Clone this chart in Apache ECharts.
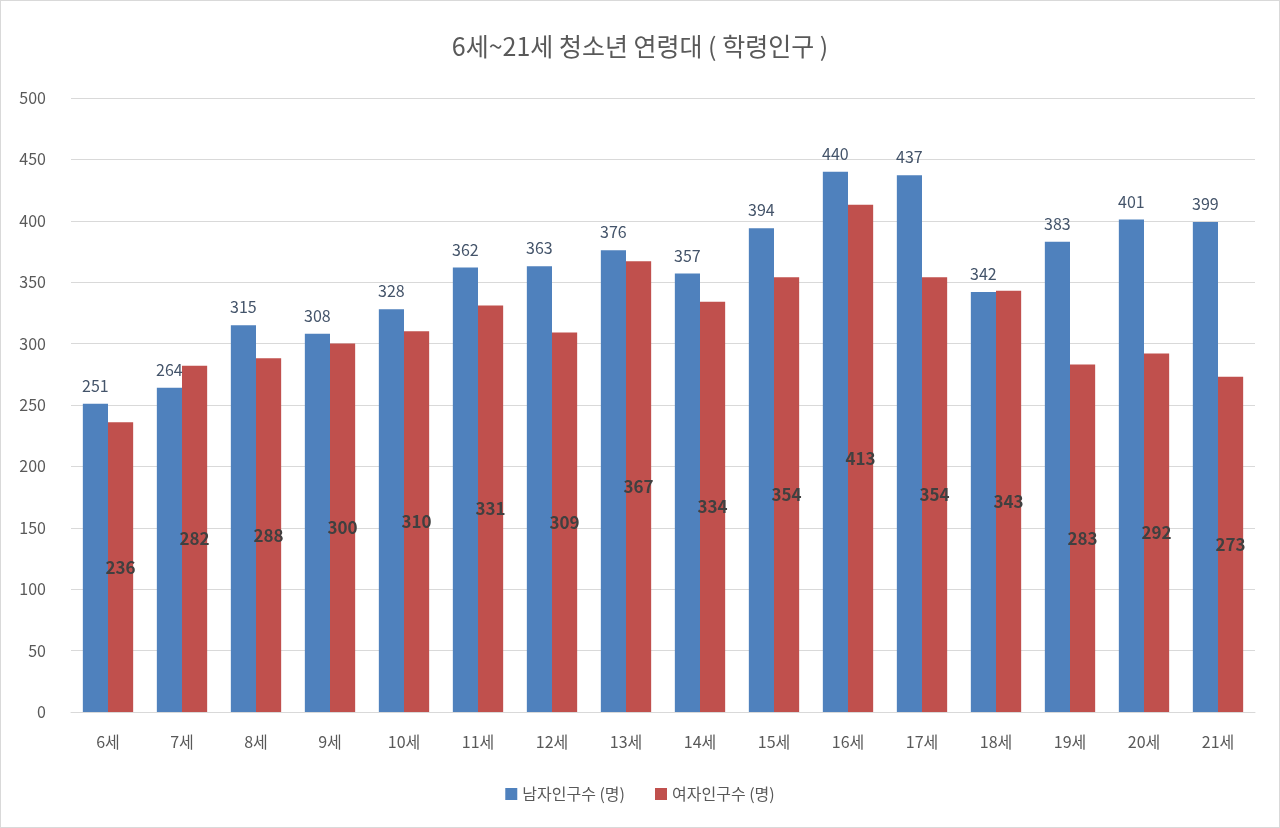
<!DOCTYPE html>
<html>
<head>
<meta charset="utf-8">
<script src="https://cdn.jsdelivr.net/npm/echarts@6/dist/echarts.min.js"></script>
<style>
  html, body { margin: 0; padding: 0; background: #fff; }
  #chart { width: 1278px; height: 826px; border: 1px solid #d9d9d9; }
</style>
</head>
<body>
<div id="chart"></div>
<script>
// 연령대
const ages = ['6세', '7세', '8세', '9세', '10세', '11세', '12세', '13세', '14세', '15세', '16세', '17세', '18세', '19세', '20세', '21세'];
// 남자인구수
const male = [251, 264, 315, 308, 328, 362, 363, 376, 357, 394, 440, 437, 342, 383, 401, 399];
// 여자인구수
const female = [236, 282, 288, 300, 310, 331, 309, 367, 334, 354, 413, 354, 343, 283, 292, 273];

const chart = echarts.init(document.getElementById('chart'));
const font = '"Noto Sans CJK KR", "Noto Sans", sans-serif';

chart.setOption({
  textStyle: { fontFamily: font },
  title: {
    text: '6세~21세 청소년 연령대 ( 학령인구 )',
    left: 'center',
    top: 28,
    textStyle: { fontFamily: font, fontSize: 25, fontWeight: 'normal', color: '#595959' }
  },
  legend: {
    bottom: 20,
    itemWidth: 12,
    itemHeight: 12,
    itemGap: 30,
    icon: 'rect',
    textStyle: { fontFamily: font, fontSize: 16, color: '#595959' },
    data: ['남자인구수 (명)', '여자인구수 (명)']
  },
  grid: { left: 70, right: 24, top: 97, bottom: 115 },
  xAxis: {
    type: 'category',
    data: ages,
    axisTick: { show: false },
    axisLine: { lineStyle: { color: '#d9d9d9' } },
    axisLabel: { color: '#595959', fontSize: 16, margin: 22 }
  },
  yAxis: {
    type: 'value',
    min: 0,
    max: 500,
    interval: 50,
    axisLabel: { color: '#595959', fontSize: 16, margin: 25 },
    splitLine: { lineStyle: { color: '#d9d9d9' } }
  },
  series: [
    {
      name: '남자인구수 (명)',
      type: 'bar',
      data: male,
      barGap: 0,
      barCategoryGap: '32%',
      itemStyle: { color: '#4f81bd' },
      label: { show: true, position: 'top', distance: 10, color: '#44546a', fontSize: 16 }
    },
    {
      name: '여자인구수 (명)',
      type: 'bar',
      data: female,
      itemStyle: { color: '#c0504d' },
      label: { show: true, position: 'inside', color: '#404040', fontSize: 17, fontWeight: 'bold' }
    }
  ]
});
</script>
</body>
</html>
